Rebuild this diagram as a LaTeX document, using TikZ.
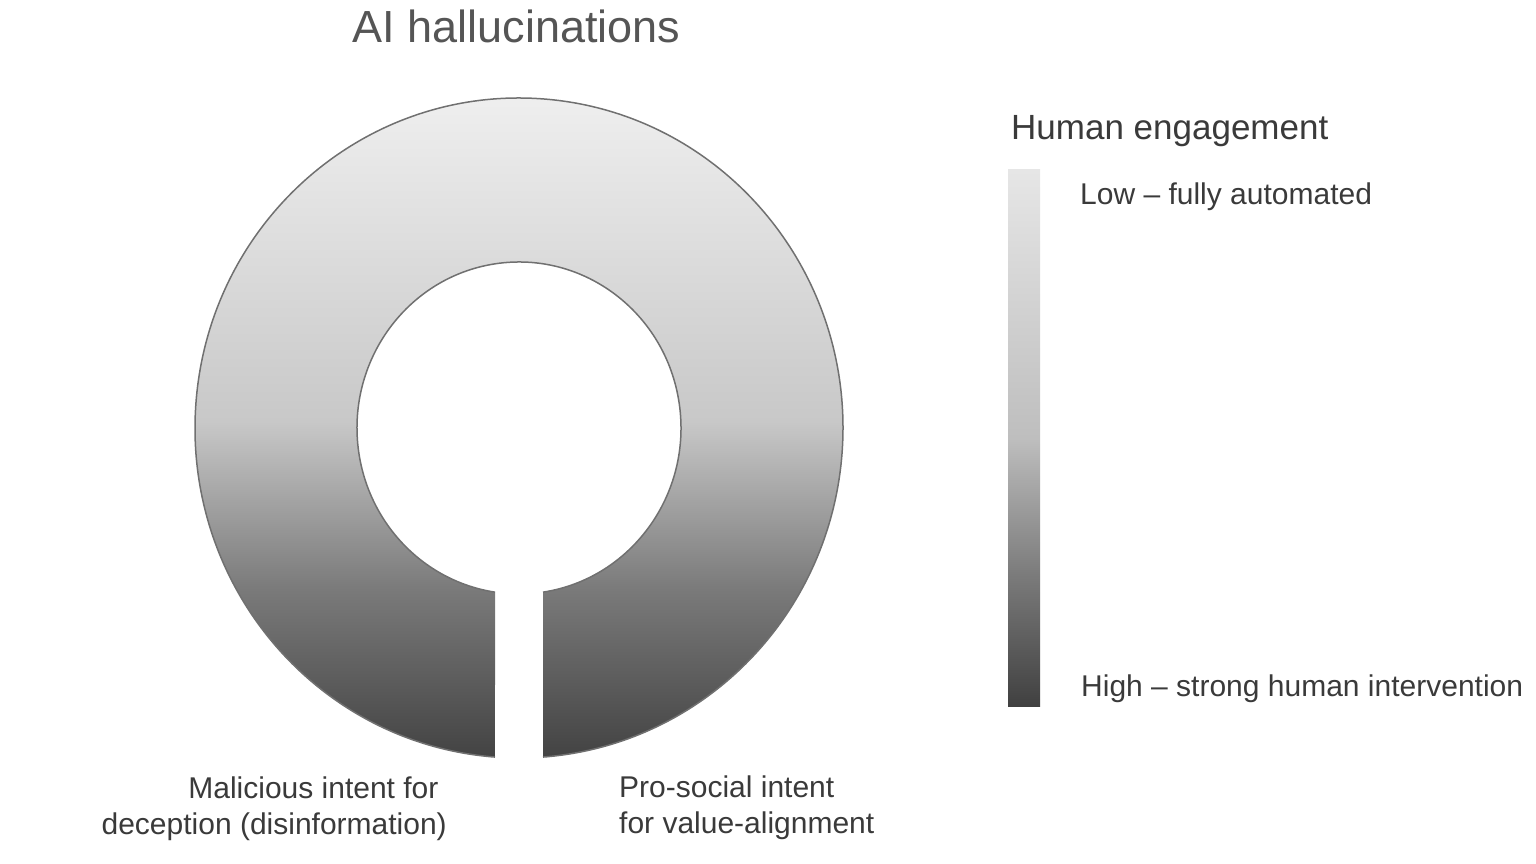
\documentclass[tikz,border=0pt]{standalone}
\usepackage{fontspec}
\setmainfont{Liberation Sans}
\definecolor{txt}{HTML}{3A3A3A}
\definecolor{ttl}{HTML}{555555}
\definecolor{ringgray}{HTML}{707070}
\definecolor{ra}{HTML}{434343}
\definecolor{rb}{HTML}{7A7A7A}
\definecolor{rc}{HTML}{C8C8C8}
\definecolor{rd}{HTML}{F0F0F0}
\definecolor{ba}{HTML}{404040}
\definecolor{bb}{HTML}{7C7C7C}
\definecolor{bc}{HTML}{BEBEBE}
\definecolor{bd}{HTML}{E6E6E6}
\pgfdeclareverticalshading{ringshade}{100bp}{color(0bp)=(ra); color(25bp)=(ra); color(37.5bp)=(rb); color(50bp)=(rc); color(75bp)=(rd); color(100bp)=(rd)}
\pgfdeclareverticalshading{barshade}{100bp}{color(0bp)=(ba); color(25bp)=(ba); color(37.5bp)=(bb); color(50bp)=(bc); color(75bp)=(bd); color(100bp)=(bd)}
\begin{document}
\begin{tikzpicture}[x=1pt,y=1pt,
  lbl/.style={text=txt,font=\fontsize{30}{36.5}\selectfont,inner sep=0pt},
  ringline/.style={draw=ringgray,line width=1.5pt}]
\useasboundingbox (0,0) rectangle (1536,864);
\coordinate (c) at (519,436);
% ring body
\path[shading=ringshade]
  ([shift={(c)}]265.75:324 and 330)
  arc[start angle=265.75,end angle=-85.75,x radius=324,y radius=330]
  -- ([shift={(c)}]-81.48:162 and 166)
  arc[start angle=-81.48,end angle=261.48,x radius=162,y radius=166]
  -- cycle;
% outlines of the arcs
\draw[ringline] ([shift={(c)}]265.75:324 and 330)
  arc[start angle=265.75,end angle=-85.75,x radius=324,y radius=330];
\draw[ringline] ([shift={(c)}]-81.48:162 and 166)
  arc[start angle=-81.48,end angle=261.48,x radius=162,y radius=166];
% title
\node[text=ttl,font=\fontsize{45}{50}\selectfont,inner sep=0pt,anchor=base] (title) at (516.5,821) {AI hallucinations};
% bottom labels
\node[lbl,align=right,anchor=base east] (mal) at (447,29) {Malicious intent for\hbox to 0.278em{}\\deception (disinformation)};
\node[lbl,align=left,anchor=base west] (pro) at (619,30) {Pro-social intent\\for value-alignment};
% legend
\node[text=txt,font=\fontsize{35}{40}\selectfont,inner sep=0pt,anchor=base west] (hum) at (1011,724) {Human engagement};
\node[shading=barshade,minimum width=32pt,minimum height=537pt,inner sep=0pt,anchor=south west] (bar) at (1008,157) {};
\node[lbl,anchor=base west] (low) at (1080,659) {Low -- fully automated};
\node[lbl,anchor=base west] (high) at (1081,167) {High -- strong human intervention};
\end{tikzpicture}
\end{document}
